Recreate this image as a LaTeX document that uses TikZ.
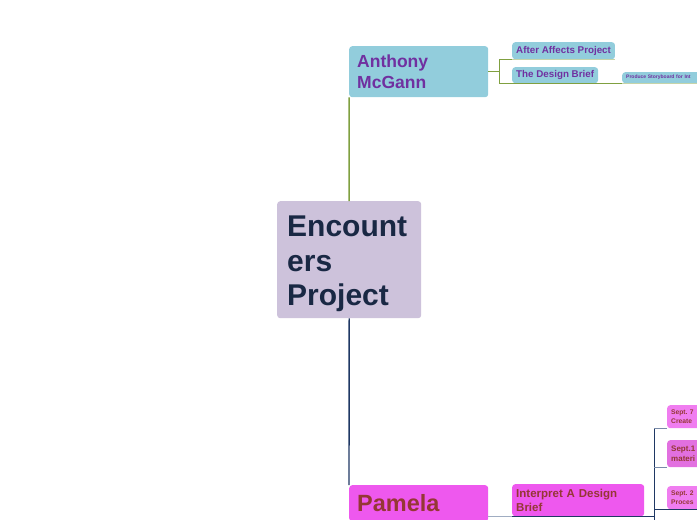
\documentclass[tikz,border=0pt]{standalone}
\usepackage{fontspec}
\setmainfont{Liberation Sans}
\frenchspacing
\definecolor{rootfill}{RGB}{205,194,219}
\definecolor{roottext}{RGB}{25,40,68}
\definecolor{tealfill}{RGB}{146,205,220}
\definecolor{purptext}{RGB}{112,48,160}
\definecolor{oliveline}{RGB}{128,160,64}
\definecolor{navyline}{RGB}{31,56,100}
\definecolor{magfill}{RGB}{238,88,238}
\definecolor{bricktext}{RGB}{149,55,53}
\definecolor{pinkfill}{RGB}{240,125,240}
\definecolor{pinkdark}{RGB}{226,112,224}
\definecolor{greyblue}{RGB}{120,138,168}
\usetikzlibrary{positioning, calc}

\begin{document}
\begin{tikzpicture}[x=1pt, y=-1pt,
  mmbox/.style={rounded corners=3pt, anchor=north west, align=left, inner ysep=0pt},
  subbox/.style={mmbox, inner xsep=4pt, fill=tealfill, text=purptext, font=\fontsize{9.8}{11}\selectfont\bfseries, minimum height=17pt},
  datebox/.style={mmbox, inner xsep=4pt, text width=80pt, text=bricktext},
  greenlink/.style={draw=oliveline, line width=1.5pt},
  navylink/.style={draw=navyline, line width=1.4pt}]
  \useasboundingbox (0,0) rectangle (697,520);
  \clip (0,0) rectangle (697,520);

  % Central topic
  \node[mmbox, fill=rootfill, text=roottext, inner xsep=10pt, text width=124pt, minimum height=117pt,
    font=\fontsize{30}{34.5}\selectfont\bfseries] (root) at (277,201) {\rule{0pt}{29.5pt}Encount\\ers\\Project};

  % Anthony McGann branch
  \node[mmbox, fill=tealfill, text=purptext, inner xsep=8pt, text width=123pt, minimum height=51pt,
    font=\fontsize{17.5}{21}\selectfont\bfseries] (anthony) at (349,46) {Anthony\\McGann};
  \node[subbox] (afterfx) at (512,42) {After Affects Project};
  \node[subbox, minimum height=16pt] (brief) at (512,67) {The Design Brief};
  \node[mmbox, fill=tealfill, text=purptext, inner xsep=4pt, minimum height=11pt, text width=100pt,
    font=\fontsize{5}{6}\selectfont\bfseries] (produce) at (622,72) {Produce Storyboard for Int};

  \draw[greenlink] (root.north) -- (anthony.south west);
  \draw[greenlink] (anthony.east) -- ++(11,0) coordinate (aj);
  \draw[greenlink] (aj |- afterfx.south) -- (aj |- brief.south);
  \draw[greenlink] (aj |- afterfx.south) -- (afterfx.south west);
  \draw[greenlink, draw=oliveline!45] (afterfx.south west) -- (afterfx.south east);
  \draw[greenlink] (aj |- brief.south) -- (brief.south west) -- (produce.south west);
  \draw[greenlink, draw=oliveline!45] (produce.south west) -- (produce.south east);

  % Pamela branch
  \node[mmbox, fill=magfill, text=bricktext, inner xsep=8pt, text width=123pt, minimum height=36pt,
    font=\fontsize{23.5}{26}\selectfont\bfseries] (pamela) at (349,485) {Pamela};
  \node[mmbox, fill=magfill, text=bricktext, inner xsep=4pt, text width=124pt, minimum height=32pt,
    font=\fontsize{11.5}{14}\selectfont\bfseries] (interp) at (512,484) {Interpret A Design\\Brief};
  \node[datebox, fill=pinkfill, minimum height=23pt, font=\fontsize{6.7}{9}\selectfont\bfseries] (sept7) at (667,405) {Sept. 7\\Create};
  \node[datebox, fill=pinkdark, minimum height=27pt, font=\fontsize{8}{9.5}\selectfont\bfseries] (sept1) at (667,440) {Sept.1\\materi};
  \node[datebox, fill=pinkfill, minimum height=23pt, font=\fontsize{6.7}{9}\selectfont\bfseries] (sept2) at (667,486) {Sept. 2\\Proces};

  \draw[navylink] (root.south) -- (pamela.north west);
  \draw[navylink, draw=greyblue!70] (pamela.east |- interp.south) -- (interp.south west);
  \draw[navylink] (interp.south west) -- (interp.south east) -- ++(10,0) coordinate (pj);
  \draw[navylink] (pj |- sept7.south) -- ($(pj)+(0,20)$);
  \draw[navylink, draw=greyblue] (pj |- sept7.south) -- (sept7.south west);
  \draw[navylink, draw=greyblue] (pj |- sept1.south) -- (sept1.south west);
  \draw[navylink] (pj |- sept2.south) -- (sept2.south west) -- (sept2.south east);
\end{tikzpicture}
\end{document}
